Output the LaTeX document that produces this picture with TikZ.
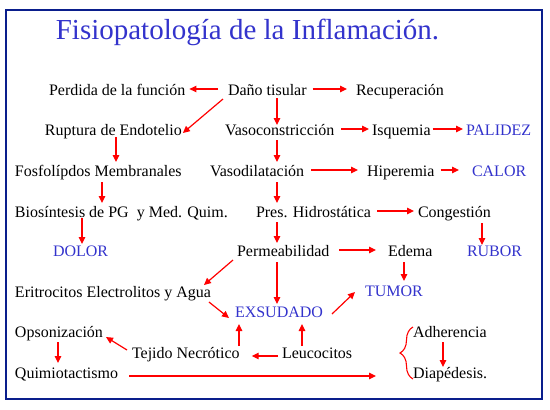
\documentclass[tikz,border=0pt]{standalone}
\usepackage{fontspec}
\setmainfont{Liberation Serif}
\usetikzlibrary{arrows.meta,calc,decorations.pathreplacing}
\definecolor{navy}{RGB}{10,30,140}
\definecolor{txtblue}{RGB}{51,51,204}
\definecolor{arrred}{RGB}{255,0,0}
\begin{document}
\begin{tikzpicture}[x=1pt,y=-1pt,
  txt/.style={inner sep=0pt,outer sep=0pt,anchor=base west,font=\fontsize{16}{19}\selectfont},
  btxt/.style={txt,text=txtblue},
  arr/.style={draw=arrred,line width=1.2pt,-{Triangle[length=7pt,width=6.5pt]}}]
\useasboundingbox (0,0) rectangle (550,410);
\draw[navy,line width=2.2pt] (6,10) rectangle (542,399);
\node[inner sep=0pt,anchor=base,text=txtblue,font=\fontsize{29}{34}\selectfont] (title) at (247.5,39) {Fisiopatología de la Inflamación.};
% nodes
\node[txt] (perdida) at (49,95) {Perdida de la función};
\node[txt] (dano) at (228,95) {Daño tisular};
\node[txt] (recup) at (356,95) {Recuperación};
\node[txt] (ruptura) at (45,135) {Ruptura de Endotelio};
\node[txt] (vasoc) at (225,135) {Vasoconstricción};
\node[txt] (isq) at (372,135) {Isquemia};
\node[btxt] (palidez) at (466,135) {PALIDEZ};
\node[txt] (fosfo) at (15,176) {Fosfolípdos Membranales};
\node[txt] (vasod) at (210,176) {Vasodilatación};
\node[txt] (hiper) at (367,176) {Hiperemia};
\node[btxt] (calor) at (472,176) {CALOR};
\node[txt] (bios) at (15,217) {Biosíntesis de PG\ \ y Med. Quim.};
\node[txt] (pres) at (256,217) {Pres. Hidrostática};
\node[txt] (cong) at (418,217) {Congestión};
\node[btxt] (dolor) at (53,256) {DOLOR};
\node[txt] (perm) at (237,256) {Permeabilidad};
\node[txt] (edema) at (388,256) {Edema};
\node[btxt] (rubor) at (467,256) {RUBOR};
\node[txt] (eritro) at (15,297) {Eritrocitos Electrolitos y Agua};
\node[btxt] (tumor) at (365,296) {TUMOR};
\node[btxt] (exsud) at (235,317) {EXSUDADO};
\node[txt] (opson) at (15,337) {Opsonización};
\node[txt] (adher) at (413,337) {Adherencia};
\node[txt] (tejido) at (132,358) {Tejido Necrótico};
\node[txt] (leuco) at (282,358) {Leucocitos};
\node[txt] (quimio) at (15,378) {Quimiotactismo};
\node[txt] (diap) at (413,378) {Diapédesis.};
\coordinate (bracetip) at (376,376);
% brace
\draw[arrred,line width=1.1pt,decorate,decoration={brace,amplitude=13pt}]
  ($(diap.base west)+(0,1)$) -- ($(adher.base west)+(0,-10)$);
% arrows
\draw[arr] ($(dano.base west)+(-10,-6)$) -- ($(perdida.base east)+(4,-6)$);
\draw[arr] ($(dano.base east)+(6,-6)$) -- ($(recup.base west)+(-9,-6)$);
\draw[arr] ($(dano.base west)+(-5,4)$) -- ($(ruptura.base east)+(1,-2)$);
\draw[arr] ($(dano.base west)+(49,3)$) -- ($(vasoc.base west)+(52,-10)$);
\draw[arr] ($(vasoc.base east)+(7,-6)$) -- ($(isq.base west)+(-3,-6)$);
\draw[arr] ($(isq.base east)+(2,-6)$) -- ($(palidez.base west)+(-3,-6)$);
\draw[arr] ($(ruptura.base west)+(71,2)$) -- ($(fosfo.base west)+(101,-14)$);
\draw[arr] ($(vasoc.base west)+(52,5)$) -- ($(vasod.base west)+(67,-14)$);
\draw[arr] ($(fosfo.base west)+(87,6)$) -- ($(bios.base west)+(87,-14)$);
\draw[arr] ($(vasod.base east)+(7,-6)$) -- ($(hiper.base west)+(-9,-6)$);
\draw[arr] ($(hiper.base east)+(6,-6)$) -- ($(calor.base west)+(-13,-6)$);
\draw[arr] ($(vasod.base west)+(67,6)$) -- ($(pres.base west)+(21,-14)$);
\draw[arr] ($(bios.base west)+(67,1)$) -- ($(dolor.base west)+(29,-12)$);
\draw[arr] ($(pres.base east)+(6,-6)$) -- ($(cong.base west)+(-4,-6)$);
\draw[arr] ($(cong.base west)+(64,6)$) -- ($(rubor.base west)+(15,-11)$);
\draw[arr] ($(pres.base west)+(21,5)$) -- ($(perm.base west)+(40,-13)$);
\draw[arr] ($(perm.base east)+(10,-6)$) -- ($(edema.base west)+(-12,-6)$);
\draw[arr] ($(perm.base west)+(-4,4)$) -- ($(eritro.base east)+(-7,-12)$);
\draw[arr] ($(perm.base west)+(40,6)$) -- ($(exsud.base west)+(42,-13)$);
\draw[arr] ($(edema.base west)+(16,6)$) -- ($(tumor.base west)+(39,-15)$);
\draw[arr] ($(eritro.base east)+(-2,5)$) -- ($(exsud.base west)+(-6,1)$);
\draw[arr] ($(exsud.base east)+(9,-3)$) -- ($(tumor.base west)+(-10,-4)$);
\draw[arr] ($(tejido.base west)+(107,-12)$) -- ($(exsud.base west)+(4,7)$);
\draw[arr] ($(leuco.base west)+(20,-12)$) -- ($(exsud.base west)+(67,7)$);
\draw[arr] ($(leuco.base west)+(-4,-2)$) -- ($(tejido.base east)+(12,-2)$);
\draw[arr] ($(tejido.base west)+(-5,-8)$) -- ($(opson.base east)+(3,0)$);
\draw[arr] ($(opson.base west)+(43,5)$) -- ($(quimio.base west)+(43,-15)$);
\draw[arr] ($(quimio.base east)+(11,-2)$) -- (bracetip);
\draw[arr] ($(adher.base west)+(30,5)$) -- ($(diap.base west)+(30,-11)$);
\end{tikzpicture}
\end{document}
